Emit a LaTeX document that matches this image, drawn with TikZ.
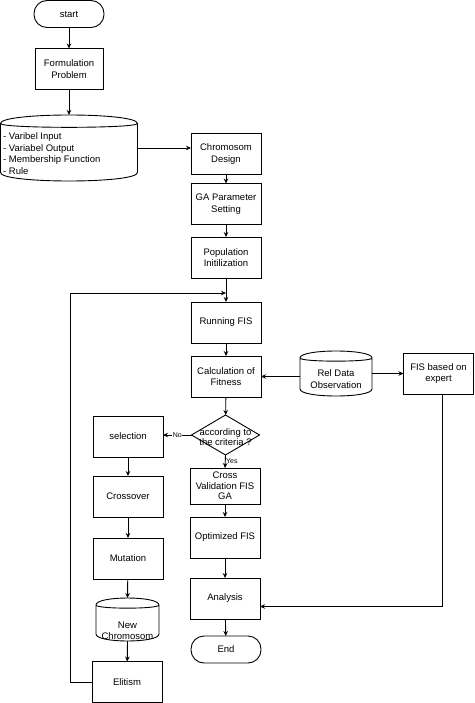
\documentclass[tikz,border=0pt]{standalone}
\usepackage{fontspec}
\setmainfont{Liberation Sans}
\usetikzlibrary{calc,arrows.meta,positioning,shapes.geometric}
\tikzset{
  ln/.style={line width=0.9pt},
  ar/.style={-{Stealth[length=5pt,width=4.5pt]},ln},
  box/.style={draw,ln,minimum width=70pt,minimum height=41pt,align=center,inner sep=2pt,outer sep=0pt},
  term/.style={box,rounded corners=13pt,minimum height=27pt},
  store/.style={rectangle,inner sep=0pt,outer sep=0pt},
  choice/.style={diamond,draw,ln,inner sep=0pt,outer sep=0pt,minimum width=68pt,minimum height=40pt},
  lbl/.style={align=center,inner sep=0pt},
  tag/.style={font=\fontsize{7}{8}\selectfont,inner sep=0.5pt}
}
\newcommand{\drum}[2]{%
  \draw[ln] let \p1=(#1.north west), \p2=(#1.south east) in
    (\x1,\y1-#2) .. controls (\x1,\y1+#2/3) and (\x2,\y1+#2/3) .. (\x2,\y1-#2)
    -- (\x2,\y2+#2) .. controls (\x2,\y2-#2/3) and (\x1,\y2-#2/3) .. (\x1,\y2+#2) -- cycle
    (\x1,\y1-#2) .. controls (\x1,\y1-1.6*#2) and (\x2,\y1-1.6*#2) .. (\x2,\y1-#2);}
\begin{document}
\begin{tikzpicture}[x=1pt,y=-1pt,font=\fontsize{9.5}{11.5}\selectfont]
\useasboundingbox (0,0) rectangle (474,703);
\node[term] (start) at (69,14) {start};
\node[box,minimum width=68pt] (form) at (69,69) {Formulation\\Problem};
\node[store,minimum width=137pt,minimum height=66pt,
  label={[lbl,align=left,anchor=west,xshift=2.5pt,yshift=-5.5pt]west:- Varibel Input\\- Variabel Output\\- Membership Function\\- Rule}] (var) at (69,148) {};
\drum{var}{8.5pt}
\node[box] (chr) at (226,154) {Chromosom\\Design};
\node[box] (gap) at (226,204) {GA Parameter\\Setting};
\node[box] (pop) at (226,257.5) {Population\\Initilization};
\coordinate (jn) at (226,293);
\node[box] (run) at (226,322.5) {Running FIS};
\node[box] (fit) at (226,376.5) {Calculation of\\Fitness};
\node[store,minimum width=72pt,minimum height=45pt,
  label={[lbl,yshift=-5.5pt]center:Rel Data\\Observation}] (rel) at (336,373.5) {};
\drum{rel}{7pt}
\node[box] (exp) at (438.5,373.5) {FIS based on\\expert};
\node[choice,label={[lbl,yshift=-2pt,font=\fontsize{9.5}{10}\selectfont]center:according to\\the criteria ?}] (dec) at (225.5,435) {};
\node[box] (sel) at (128,436.5) {selection};
\node[box] (cro) at (128,496.5) {Crossover};
\node[box] (mut) at (128,558.5) {Mutation};
\node[store,minimum width=63pt,minimum height=43pt,
  label={[lbl,yshift=-11.5pt]center:New\\Chromosom}] (nc) at (127.5,619.5) {};
\drum{nc}{7pt}
\node[box] (eli) at (127,682) {Elitism};
\node[box,minimum height=36pt,font=\fontsize{9.5}{10.5}\selectfont] (cv) at (225,486) {Cross\\Validation FIS\\GA};
\node[box] (opt) at (225,537.5) {Optimized FIS};
\node[box] (anl) at (225,598.5) {Analysis};
\node[term] (end) at (226,649.5) {End};
\draw[ar] (start) -- (form);
\draw[ar] (form) -- (var.north);
\draw[ar] (var.east) -- (var.east -| chr.west);
\draw[ar] (chr) -- (gap);
\draw[ar] (gap) -- (pop);
\draw[ar] (pop) -- (run);
\draw[ar] (run) -- (fit);
\draw[ar] (rel.west |- fit) -- (fit.east);
\draw[ar] (rel.east |- exp) -- (exp.west);
\draw[ar] (fit) -- (dec);
\draw[ar] (dec.west) -- (dec.west -| sel.east) node[tag,fill=white,midway]{No};
\draw[ar] (dec.south) -- (cv.north) node[tag,midway,anchor=west]{Yes};
\draw[ar] (sel) -- (cro);
\draw[ar] (cro) -- (mut);
\draw[ar] (mut) -- (nc.north);
\draw[ar] (nc.south) -- (eli);
\draw[ar] (eli.west) -- ++(-22,0) |- (jn);
\draw[ar] (cv) -- (opt);
\draw[ar] (opt) -- (anl);
\draw[ar] (anl) -- (end);
\draw[ar] ([xshift=3.5pt]exp.south) |- ([yshift=-8pt]anl.east);
\end{tikzpicture}
\end{document}
